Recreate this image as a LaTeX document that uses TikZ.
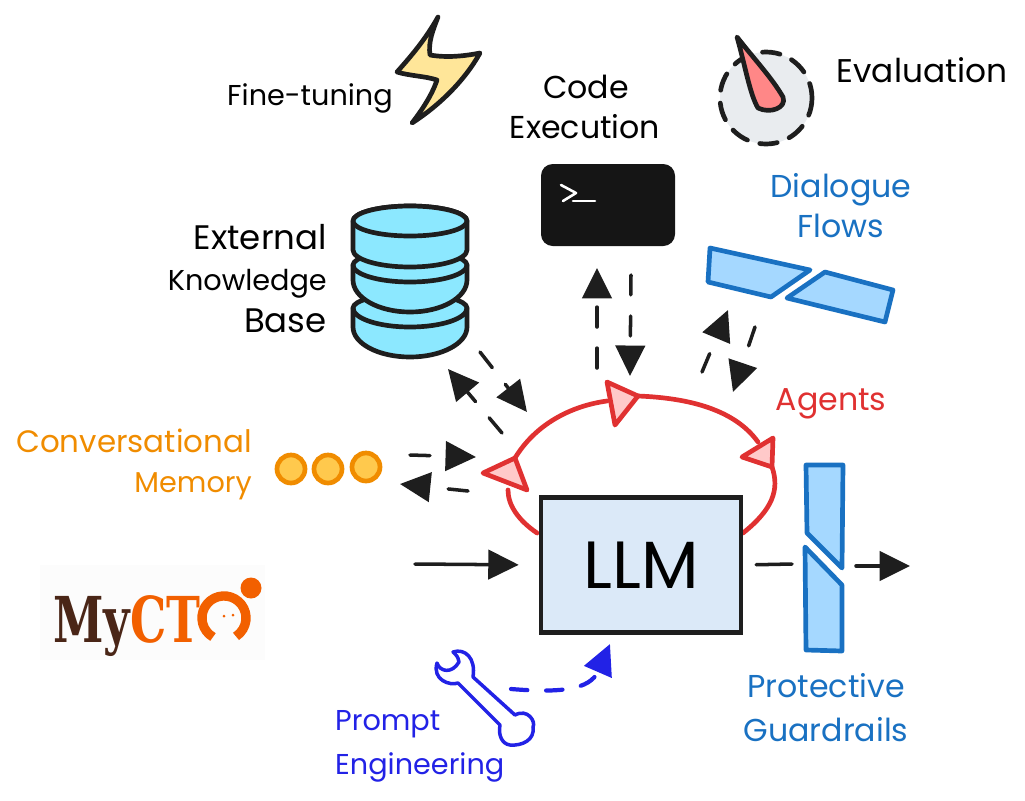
\documentclass[tikz,border=0pt]{standalone}
\usepackage{fontspec}
\setmainfont{Poppins}
\newfontfamily\logofont{DejaVu Serif}
\usetikzlibrary{arrows.meta,positioning}
\definecolor{inkblack}{HTML}{1E1E1E}
\definecolor{inkblue}{HTML}{1971C2}
\definecolor{inkred}{HTML}{E03131}
\definecolor{inkorange}{HTML}{F08C00}
\definecolor{inkviolet}{HTML}{2222E6}
\definecolor{slabblue}{HTML}{A5D8FF}
\definecolor{dbcyan}{HTML}{8CE8FF}
\definecolor{llmblue}{HTML}{DBE9F8}
\definecolor{triangred}{HTML}{FFC9C9}
\definecolor{needlered}{HTML}{FF8787}
\definecolor{boltyellow}{HTML}{FFE699}
\definecolor{dotyellow}{HTML}{FFC94D}
\definecolor{gaugegray}{HTML}{E9ECEF}
\definecolor{logobrown}{HTML}{4A2617}
\definecolor{logoorange}{HTML}{F26000}
\tikzset{
  x=0.03cm, y=-0.03cm,
  sketch/.style={line width=4pt, line cap=round, line join=round},
  label/.style={font=\fontsize{24.5}{28}\selectfont, inner sep=0pt},
  labelwide/.style={font=\fontsize{27}{30}\selectfont, inner sep=0pt},
  flow/.style={line width=3pt, line cap=round, inkblack, -{Triangle[length=26pt,width=25pt]}},
  dashflow/.style={flow, dash pattern=on 17pt off 18pt},
  slab/.style={sketch, draw=inkblue, fill=slabblue},
  agenttip/.style={sketch, draw=inkred, fill=triangred},
}
\begin{document}
\begin{tikzpicture}
  \useasboundingbox (0,0) rectangle (1025,800);

  % labels
  \node[label] (finetune) at (310,98) {Fine-tuning};
  \node[labelwide] (code) at (586,87) {Code};
  \node[labelwide] (exec) at (585,127) {Execution};
  \node[labelwide,font=\fontsize{28}{30}\selectfont] (evaluation) at (922,70) {Evaluation};
  \node[labelwide,inkblue] (dialogue) at (841,190) {Dialogue};
  \node[labelwide,inkblue] (flows) at (841,226) {Flows};
  \node[labelwide,font=\fontsize{29}{30}\selectfont,anchor=east] (external) at (327,237) {External};
  \node[label,anchor=east] (knowledge) at (327,284) {Knowledge};
  \node[labelwide,font=\fontsize{29}{30}\selectfont,anchor=east] (base) at (327,321) {Base};
  \node[labelwide,font=\fontsize{26.4}{30}\selectfont,anchor=east,inkorange] (convers) at (252,441) {Conversational};
  \node[label,anchor=east,inkorange] (memory) at (252,486) {Memory};
  \node[labelwide,inkred] (agents) at (831,404) {Agents};
  \node[labelwide,inkblue] (protective) at (826,686) {Protective};
  \node[labelwide,inkblue] (guardrails) at (826,730) {Guardrails};
  \node[label,anchor=west,inkviolet] (prompt) at (335,724) {Prompt};
  \node[label,anchor=west,inkviolet] (engineering) at (335,767) {Engineering};

  % agents loop, behind the box
  \draw[sketch,inkred] (537,533) .. controls (518,520) and (508,505) .. (508,490);
  \draw[sketch,inkred] (515,458) .. controls (535,425) and (570,406) .. (607,401);
  \draw[sketch,inkred] (638,396) .. controls (690,398) and (735,410) .. (758,442);
  \draw[sketch,inkred] (772,467) .. controls (780,490) and (772,510) .. (743,533);
  \draw[agenttip] (483,473) -- (515,458) -- (527,490) -- cycle;
  \draw[agenttip] (607,382) -- (638,396) -- (615,425) -- cycle;
  \draw[agenttip] (773,438) -- (742,457) -- (772,467) -- cycle;

  \node[draw=inkblack, fill=llmblue, line width=4pt, minimum width=6cm, minimum height=4.05cm,
        font=\fontsize{57}{60}\selectfont] (llm) at (641,565) {LLM};

  % bolt
  \draw[sketch,draw=inkblack,fill=boltyellow]
    (438,17) .. controls (425,40) and (412,55) .. (397,72)
    .. controls (410,76) and (425,76) .. (437,80)
    .. controls (432,95) and (422,110) .. (412,123)
    .. controls (440,105) and (465,80) .. (480,53)
    .. controls (465,56) and (447,58) .. (430,55)
    .. controls (428,42) and (433,30) .. (438,17) -- cycle;

  % gauge
  \draw[sketch,inkblack,fill=gaugegray,dash pattern=on 15pt off 11pt] (766,98) circle (46);
  \draw[sketch,draw=inkblack,fill=needlered]
    (737,37) .. controls (755,60) and (772,78) .. (783,97)
    .. controls (787,108) and (770,114) .. (758,108)
    .. controls (750,95) and (745,65) .. (737,37) -- cycle;

  % terminal
  \fill[inkblack!70!black,rounded corners=10pt] (541,164) rectangle (675,246);
  \draw[sketch,white,line width=2.2pt] (561,185) -- (576,193) -- (563,201);
  \draw[sketch,white,line width=2.2pt] (573,201) -- (595,201);

  % database
  \begin{scope}[sketch,draw=inkblack,fill=dbcyan,line width=4pt]
    \filldraw (353,327) arc[start angle=180,end angle=0,x radius=57,y radius=30]
      -- (467,308) arc[start angle=0,end angle=-180,x radius=57,y radius=14] -- cycle;
    \draw (353,308) arc[start angle=180,end angle=0,x radius=57,y radius=19];
    \filldraw (353,280) arc[start angle=180,end angle=0,x radius=57,y radius=32]
      -- (467,265) arc[start angle=0,end angle=-180,x radius=57,y radius=14] -- cycle;
    \draw (353,265) arc[start angle=180,end angle=0,x radius=57,y radius=17];
    \filldraw (353,221) -- (353,250) arc[start angle=180,end angle=0,x radius=57,y radius=17]
      -- (467,221) arc[start angle=0,end angle=-180,x radius=57,y radius=15] -- cycle;
    \filldraw (410,221) ellipse (57 and 15);
  \end{scope}

  % dialogue flows
  \draw[slab] (710,248) -- (810,270) -- (771,297) -- (708,282) -- cycle;
  \draw[slab] (825,272) -- (893,290) -- (885,322) -- (787,298) -- cycle;

  % guardrails
  \draw[slab] (806,465) -- (843,465) -- (842,568) -- (807,533) -- cycle;
  \draw[slab] (805,547) -- (842,585) -- (842,651) -- (806,650) -- cycle;

  % memory
  \foreach \dotname/\xdot/\ydot in {memA/291/469,memB/328/469,memC/366/467}
    \node[circle,draw=inkorange,fill=dotyellow,line width=4pt,minimum size=0.84cm,inner sep=0pt]
      (\dotname) at (\xdot,\ydot) {};

  % wrench
  \draw[sketch,inkviolet,line width=3pt]
    (437,663) .. controls (440,672) and (452,674) .. (459,662)
    .. controls (458,656) and (456,655) .. (453,652)
    .. controls (465,648) and (476,658) .. (473,677)
    -- (515,715) .. controls (528,708) and (536,722) .. (533,727)
    .. controls (535,740) and (522,746) .. (510,745)
    .. controls (502,744) and (498,735) .. (500,725)
    -- (458,683) .. controls (450,686) and (432,680) .. (437,663) -- cycle;

  % connector ends
  \coordinate (kbout) at (480,352);
  \coordinate (kbin) at (502,433);
  \coordinate (kbtip) at (448,369);
  \coordinate (agentkb) at (527,412);
  \coordinate (execup) at (597,368);
  \coordinate (exectip) at (597,268);
  \coordinate (execdown) at (631,275);
  \coordinate (agentexec) at (630,376);
  \coordinate (flowup) at (702,372);
  \coordinate (flowtip) at (728,310);
  \coordinate (flowdown) at (755,327);
  \coordinate (agentflow) at (733,392);
  \coordinate (memout) at (410,455);
  \coordinate (agentmem) at (476,457);
  \coordinate (agentback) at (468,491);
  \coordinate (memback) at (400,484);
  \coordinate (input) at (415,564);
  \coordinate (gapmid) at (792,564);
  \coordinate (gapout) at (856,566);
  \coordinate (output) at (910,566);
  \coordinate (wrench) at (511,689);
  \coordinate (llmprompt) at (610,644);

  \draw[dashflow] (kbout) -- (agentkb);
  \draw[dashflow] (kbin) -- (kbtip);
  \draw[dashflow] (execup) -- (exectip);
  \draw[dashflow] (execdown) -- (agentexec);
  \draw[dashflow] (flowup) -- (flowtip);
  \draw[dashflow] (flowdown) -- (agentflow);
  \draw[dashflow] (memout) -- (agentmem);
  \draw[dashflow] (agentback) -- (memback);
  \draw[flow,shorten >=17pt] (input) -- (llm.west);
  \draw[line width=3pt,line cap=round,inkblack,shorten <=11pt] (llm.east) -- (gapmid);
  \draw[flow] (gapout) -- (output);
  \draw[dashflow,inkviolet,line width=3.6pt,dash pattern=on 14pt off 16pt] (wrench) .. controls (560,693) and (590,690) .. (llmprompt);

  % logo
  \fill[black!1] (40,565) rectangle (265,660);
  \node[inner sep=0pt,anchor=base west] (logo) at (53,642)
    {\scalebox{0.72}[1]{\logofont\bfseries\fontsize{54}{54}\selectfont
      \textcolor{logobrown}{My}\textcolor{logoorange}{CT}}};
  \draw[logoorange,line width=8pt] (213,637) arc[start angle=120,end angle=417,radius=22];
  \fill[logoorange] (224,616) circle (1.5) (233,615) circle (1.5);
  \fill[logoorange] (251,588) circle (10.5);
\end{tikzpicture}
\end{document}
